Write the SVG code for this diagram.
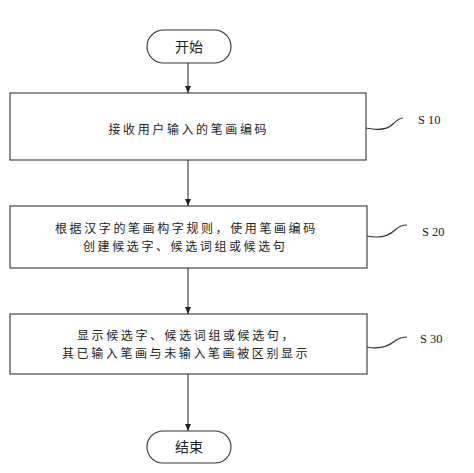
<svg xmlns="http://www.w3.org/2000/svg" width="474" height="473" viewBox="0 0 474 473">
<defs>
<marker id="arr" markerWidth="8" markerHeight="8" refX="7" refY="4" orient="auto" markerUnits="userSpaceOnUse">
<path d="M0,1 L7,4 L0,7 Z" fill="#222"/>
</marker>
<style>
.shape{fill:#fff;stroke:#333;stroke-width:1.1}
.cn{font-family:"Noto Sans CJK SC","Noto Sans",sans-serif;font-size:12px;letter-spacing:2.6px;fill:#222}
.term{font-family:"Noto Sans CJK SC","Noto Sans",sans-serif;font-size:14px;fill:#222}
.lbl{font-family:"Liberation Serif",serif;font-size:12.5px;fill:#222}
.con{stroke:#333;stroke-width:1.1;fill:none}
</style>
</defs>
<rect width="474" height="473" fill="#fff"/>
<g id="connectors">
<line class="con" x1="188" y1="63" x2="188" y2="93" marker-end="url(#arr)"/>
<line class="con" x1="188" y1="160" x2="188" y2="206" marker-end="url(#arr)"/>
<line class="con" x1="188" y1="268" x2="188" y2="314" marker-end="url(#arr)"/>
<line class="con" x1="188" y1="374" x2="188" y2="431" marker-end="url(#arr)"/>
<path class="con" d="M366,128 C380,131 388,129 393,124 C397,120 400,118 403,118"/>
<path class="con" d="M367,236 C382,239 390,235 395,230 C399,226 403,225 407,225"/>
<path class="con" d="M367,347 C382,350 390,345 395,341 C399,338 403,337 407,337"/>
</g>
<g id="start">
<rect class="shape" x="147" y="30" width="84" height="33" rx="16.5"/>
<text class="term" x="189" y="52" text-anchor="middle">开始</text>
</g>
<g id="s10">
<rect class="shape" x="10" y="93" width="356" height="67"/>
<text class="cn" x="108.5" y="134">接收用户输入的笔画编码</text>
<text class="lbl" x="418" y="124">S 10</text>
</g>
<g id="s20">
<rect class="shape" x="10" y="206" width="357" height="62"/>
<text class="cn" x="55" y="233">根据汉字的笔画构字规则，使用笔画编码</text>
<text class="cn" x="83" y="251">创建候选字、候选词组或候选句</text>
<text class="lbl" x="422" y="236">S 20</text>
</g>
<g id="s30">
<rect class="shape" x="10" y="314" width="357" height="60"/>
<text class="cn" x="77" y="340">显示候选字、候选词组或候选句，</text>
<text class="cn" x="62" y="358">其已输入笔画与未输入笔画被区别显示</text>
<text class="lbl" x="420" y="343">S 30</text>
</g>
<g id="end">
<rect class="shape" x="147" y="431" width="84" height="32" rx="16"/>
<text class="term" x="189" y="452" text-anchor="middle">结束</text>
</g>
</svg>
